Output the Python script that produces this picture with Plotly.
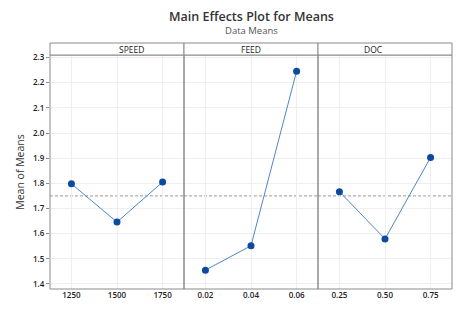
import plotly.graph_objects as go

factors = ["SPEED", "FEED", "DOC"]
levels = [["1250", "1500", "1750"], ["0.02", "0.04", "0.06"], ["0.25", "0.50", "0.75"]]
means = [[1.798, 1.646, 1.805], [1.455, 1.552, 2.245], [1.767, 1.579, 1.903]]
grand_mean = 1.75
y_ticks = [1.4, 1.5, 1.6, 1.7, 1.8, 1.9, 2.0, 2.1, 2.2, 2.3]

fig = go.Figure()
n = len(factors)
H = 234.0
strip = 12.0 / H
tick_font = dict(family="Open Sans", size=8, color="#222", weight=600)

for i, (f, lv, m) in enumerate(zip(factors, levels, means)):
    xa = "x" if i == 0 else f"x{i+1}"
    d0, d1 = i / n, (i + 1) / n
    # grand mean line
    fig.add_shape(type="line", xref=xa, yref="y", x0=-0.47, x1=2.47,
                  y0=grand_mean, y1=grand_mean, layer="below",
                  line=dict(color="#9a9a9a", width=1, dash="3px,2px"))
    fig.add_trace(go.Scatter(
        x=list(range(len(lv))), y=m, xaxis=xa, yaxis="y",
        mode="lines+markers",
        line=dict(color="#4f86c6", width=1),
        marker=dict(color="#0b4a9e", size=7),
        showlegend=False, hoverinfo="skip"))
    key = "xaxis" if i == 0 else f"xaxis{i+1}"
    fig.layout[key] = dict(
        domain=[d0, d1], anchor="y", range=[-0.47, 2.47],
        tickmode="array", tickvals=list(range(len(lv))), ticktext=lv,
        showgrid=True, gridcolor="#efefef", gridwidth=1,
        zeroline=False, showline=False,
        ticks="", tickfont=tick_font,
        fixedrange=True)
    # panel border
    fig.add_shape(type="rect", xref="paper", yref="paper",
                  x0=d0, x1=d1, y0=0, y1=1,
                  line=dict(color="#8a8a8a", width=1), fillcolor="rgba(0,0,0,0)")
    # header strip
    fig.add_shape(type="rect", xref="paper", yref="paper",
                  x0=d0, x1=d1, y0=1, y1=1 + strip,
                  line=dict(color="#8a8a8a", width=1), fillcolor="white")
    fig.add_annotation(text=f, xref="paper", yref="paper", x=(d0 + d1) / 2,
                       y=1 + strip / 2, showarrow=False, yanchor="middle",
                       font=dict(family="Open Sans", size=8.5, color="#222"))

fig.update_layout(
    yaxis=dict(range=[1.38, 2.31], tickmode="array", tickvals=y_ticks,
               ticktext=[f"{v:.1f}" for v in y_ticks],
               showgrid=True, gridcolor="#efefef", zeroline=False,
               showline=False,
               ticks="outside", ticklen=3, tickcolor="#8a8a8a",
               tickfont=tick_font,
               title=dict(text="Mean of Means", standoff=6,
                          font=dict(family="Open Sans", size=10.5, color="#333")),
               fixedrange=True),
    width=474, height=316,
    margin=dict(l=50, r=22, t=55, b=27),
    plot_bgcolor="white", paper_bgcolor="white",
)
fig.add_annotation(text="Main Effects Plot for Means", xref="paper", yref="paper",
                   x=0.5, y=1 + 38 / H, showarrow=False, yanchor="middle",
                   font=dict(family="Open Sans", size=12.5, color="#333", weight=600))
fig.add_annotation(text="Data Means", xref="paper", yref="paper",
                   x=0.5, y=1 + 24 / H, showarrow=False, yanchor="middle",
                   font=dict(family="Open Sans", size=9.5, color="#555"))

fig.write_html("out.html")
